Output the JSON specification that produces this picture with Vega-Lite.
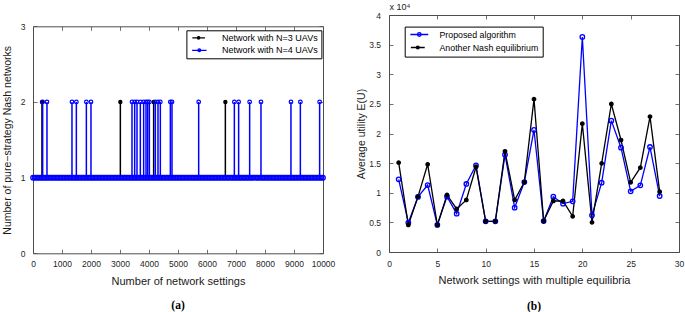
{
  "$schema": "https://vega.github.io/schema/vega-lite/v6.json",
  "background": "white",
  "padding": {"left": 2, "top": 2, "right": 0, "bottom": 0},
  "spacing": 21,
  "resolve": {"scale": {"stroke": "independent", "fill": "independent", "size": "independent"}, "legend": {"stroke": "independent", "fill": "independent"}},
  "config": {
    "view": {"stroke": "#4d4d4d", "strokeWidth": 1},
    "axis": {"domain": false, "grid": false, "tickSize": -4, "tickColor": "#4d4d4d", "tickWidth": 0.8, "labelFont": "Liberation Sans", "labelFontSize": 8.5, "labelColor": "#262626", "titleFont": "Liberation Sans", "titleFontSize": 11, "titleFontWeight": "normal", "titleColor": "#1a1a1a", "labelFlush": false, "labelOverlap": false},
    "title": {"font": "Liberation Serif", "fontSize": 11.5, "fontWeight": "bold", "color": "#000000", "orient": "bottom", "anchor": "middle"}
  },
  "datasets": {
    "a_stems": [
      {"x": 309, "n": 2, "series": "Network with N=3 UAVs"},
      {"x": 3012, "n": 2, "series": "Network with N=3 UAVs"},
      {"x": 4160, "n": 2, "series": "Network with N=3 UAVs"},
      {"x": 6633, "n": 2, "series": "Network with N=3 UAVs"},
      {"x": 333, "n": 2, "series": "Network with N=4 UAVs"},
      {"x": 482, "n": 2, "series": "Network with N=4 UAVs"},
      {"x": 1344, "n": 2, "series": "Network with N=4 UAVs"},
      {"x": 1495, "n": 2, "series": "Network with N=4 UAVs"},
      {"x": 1840, "n": 2, "series": "Network with N=4 UAVs"},
      {"x": 1999, "n": 2, "series": "Network with N=4 UAVs"},
      {"x": 3414, "n": 2, "series": "Network with N=4 UAVs"},
      {"x": 3506, "n": 2, "series": "Network with N=4 UAVs"},
      {"x": 3586, "n": 2, "series": "Network with N=4 UAVs"},
      {"x": 3701, "n": 2, "series": "Network with N=4 UAVs"},
      {"x": 3816, "n": 2, "series": "Network with N=4 UAVs"},
      {"x": 3897, "n": 2, "series": "Network with N=4 UAVs"},
      {"x": 3954, "n": 2, "series": "Network with N=4 UAVs"},
      {"x": 4012, "n": 2, "series": "Network with N=4 UAVs"},
      {"x": 4218, "n": 2, "series": "Network with N=4 UAVs"},
      {"x": 4310, "n": 2, "series": "Network with N=4 UAVs"},
      {"x": 4391, "n": 2, "series": "Network with N=4 UAVs"},
      {"x": 4736, "n": 2, "series": "Network with N=4 UAVs"},
      {"x": 4793, "n": 2, "series": "Network with N=4 UAVs"},
      {"x": 5713, "n": 2, "series": "Network with N=4 UAVs"},
      {"x": 6943, "n": 2, "series": "Network with N=4 UAVs"},
      {"x": 7091, "n": 2, "series": "Network with N=4 UAVs"},
      {"x": 7471, "n": 2, "series": "Network with N=4 UAVs"},
      {"x": 7861, "n": 2, "series": "Network with N=4 UAVs"},
      {"x": 8895, "n": 2, "series": "Network with N=4 UAVs"},
      {"x": 9219, "n": 2, "series": "Network with N=4 UAVs"},
      {"x": 9884, "n": 2, "series": "Network with N=4 UAVs"}
    ],
    "a_band": [
      {"x":0,"n":1},{"x":50,"n":1},{"x":100,"n":1},{"x":150,"n":1},{"x":200,"n":1},{"x":250,"n":1},{"x":300,"n":1},{"x":350,"n":1},{"x":400,"n":1},{"x":450,"n":1},
      {"x":500,"n":1},{"x":550,"n":1},{"x":600,"n":1},{"x":650,"n":1},{"x":700,"n":1},{"x":750,"n":1},{"x":800,"n":1},{"x":850,"n":1},{"x":900,"n":1},{"x":950,"n":1},
      {"x":1000,"n":1},{"x":1050,"n":1},{"x":1100,"n":1},{"x":1150,"n":1},{"x":1200,"n":1},{"x":1250,"n":1},{"x":1300,"n":1},{"x":1350,"n":1},{"x":1400,"n":1},{"x":1450,"n":1},
      {"x":1500,"n":1},{"x":1550,"n":1},{"x":1600,"n":1},{"x":1650,"n":1},{"x":1700,"n":1},{"x":1750,"n":1},{"x":1800,"n":1},{"x":1850,"n":1},{"x":1900,"n":1},{"x":1950,"n":1},
      {"x":2000,"n":1},{"x":2050,"n":1},{"x":2100,"n":1},{"x":2150,"n":1},{"x":2200,"n":1},{"x":2250,"n":1},{"x":2300,"n":1},{"x":2350,"n":1},{"x":2400,"n":1},{"x":2450,"n":1},
      {"x":2500,"n":1},{"x":2550,"n":1},{"x":2600,"n":1},{"x":2650,"n":1},{"x":2700,"n":1},{"x":2750,"n":1},{"x":2800,"n":1},{"x":2850,"n":1},{"x":2900,"n":1},{"x":2950,"n":1},
      {"x":3000,"n":1},{"x":3050,"n":1},{"x":3100,"n":1},{"x":3150,"n":1},{"x":3200,"n":1},{"x":3250,"n":1},{"x":3300,"n":1},{"x":3350,"n":1},{"x":3400,"n":1},{"x":3450,"n":1},
      {"x":3500,"n":1},{"x":3550,"n":1},{"x":3600,"n":1},{"x":3650,"n":1},{"x":3700,"n":1},{"x":3750,"n":1},{"x":3800,"n":1},{"x":3850,"n":1},{"x":3900,"n":1},{"x":3950,"n":1},
      {"x":4000,"n":1},{"x":4050,"n":1},{"x":4100,"n":1},{"x":4150,"n":1},{"x":4200,"n":1},{"x":4250,"n":1},{"x":4300,"n":1},{"x":4350,"n":1},{"x":4400,"n":1},{"x":4450,"n":1},
      {"x":4500,"n":1},{"x":4550,"n":1},{"x":4600,"n":1},{"x":4650,"n":1},{"x":4700,"n":1},{"x":4750,"n":1},{"x":4800,"n":1},{"x":4850,"n":1},{"x":4900,"n":1},{"x":4950,"n":1},
      {"x":5000,"n":1},{"x":5050,"n":1},{"x":5100,"n":1},{"x":5150,"n":1},{"x":5200,"n":1},{"x":5250,"n":1},{"x":5300,"n":1},{"x":5350,"n":1},{"x":5400,"n":1},{"x":5450,"n":1},
      {"x":5500,"n":1},{"x":5550,"n":1},{"x":5600,"n":1},{"x":5650,"n":1},{"x":5700,"n":1},{"x":5750,"n":1},{"x":5800,"n":1},{"x":5850,"n":1},{"x":5900,"n":1},{"x":5950,"n":1},
      {"x":6000,"n":1},{"x":6050,"n":1},{"x":6100,"n":1},{"x":6150,"n":1},{"x":6200,"n":1},{"x":6250,"n":1},{"x":6300,"n":1},{"x":6350,"n":1},{"x":6400,"n":1},{"x":6450,"n":1},
      {"x":6500,"n":1},{"x":6550,"n":1},{"x":6600,"n":1},{"x":6650,"n":1},{"x":6700,"n":1},{"x":6750,"n":1},{"x":6800,"n":1},{"x":6850,"n":1},{"x":6900,"n":1},{"x":6950,"n":1},
      {"x":7000,"n":1},{"x":7050,"n":1},{"x":7100,"n":1},{"x":7150,"n":1},{"x":7200,"n":1},{"x":7250,"n":1},{"x":7300,"n":1},{"x":7350,"n":1},{"x":7400,"n":1},{"x":7450,"n":1},
      {"x":7500,"n":1},{"x":7550,"n":1},{"x":7600,"n":1},{"x":7650,"n":1},{"x":7700,"n":1},{"x":7750,"n":1},{"x":7800,"n":1},{"x":7850,"n":1},{"x":7900,"n":1},{"x":7950,"n":1},
      {"x":8000,"n":1},{"x":8050,"n":1},{"x":8100,"n":1},{"x":8150,"n":1},{"x":8200,"n":1},{"x":8250,"n":1},{"x":8300,"n":1},{"x":8350,"n":1},{"x":8400,"n":1},{"x":8450,"n":1},
      {"x":8500,"n":1},{"x":8550,"n":1},{"x":8600,"n":1},{"x":8650,"n":1},{"x":8700,"n":1},{"x":8750,"n":1},{"x":8800,"n":1},{"x":8850,"n":1},{"x":8900,"n":1},{"x":8950,"n":1},
      {"x":9000,"n":1},{"x":9050,"n":1},{"x":9100,"n":1},{"x":9150,"n":1},{"x":9200,"n":1},{"x":9250,"n":1},{"x":9300,"n":1},{"x":9350,"n":1},{"x":9400,"n":1},{"x":9450,"n":1},
      {"x":9500,"n":1},{"x":9550,"n":1},{"x":9600,"n":1},{"x":9650,"n":1},{"x":9700,"n":1},{"x":9750,"n":1},{"x":9800,"n":1},{"x":9850,"n":1},{"x":9900,"n":1},{"x":9950,"n":1},
      {"x":10000,"n":1}
    ],
    "b": [
      {"x":1,"u":12260,"series":"Proposed algorithm"},
      {"x":2,"u":4950,"series":"Proposed algorithm"},
      {"x":3,"u":9300,"series":"Proposed algorithm"},
      {"x":4,"u":11300,"series":"Proposed algorithm"},
      {"x":5,"u":4560,"series":"Proposed algorithm"},
      {"x":6,"u":9340,"series":"Proposed algorithm"},
      {"x":7,"u":6470,"series":"Proposed algorithm"},
      {"x":8,"u":11480,"series":"Proposed algorithm"},
      {"x":9,"u":14630,"series":"Proposed algorithm"},
      {"x":10,"u":5180,"series":"Proposed algorithm"},
      {"x":11,"u":5180,"series":"Proposed algorithm"},
      {"x":12,"u":16430,"series":"Proposed algorithm"},
      {"x":13,"u":7480,"series":"Proposed algorithm"},
      {"x":14,"u":11800,"series":"Proposed algorithm"},
      {"x":15,"u":20600,"series":"Proposed algorithm"},
      {"x":16,"u":5230,"series":"Proposed algorithm"},
      {"x":17,"u":9340,"series":"Proposed algorithm"},
      {"x":18,"u":8160,"series":"Proposed algorithm"},
      {"x":19,"u":8550,"series":"Proposed algorithm"},
      {"x":20,"u":36300,"series":"Proposed algorithm"},
      {"x":21,"u":6190,"series":"Proposed algorithm"},
      {"x":22,"u":11700,"series":"Proposed algorithm"},
      {"x":23,"u":22170,"series":"Proposed algorithm"},
      {"x":24,"u":17610,"series":"Proposed algorithm"},
      {"x":25,"u":10240,"series":"Proposed algorithm"},
      {"x":26,"u":11250,"series":"Proposed algorithm"},
      {"x":27,"u":17720,"series":"Proposed algorithm"},
      {"x":28,"u":9450,"series":"Proposed algorithm"},
      {"x":1,"u":15080,"series":"Another Nash equilibrium"},
      {"x":2,"u":4560,"series":"Another Nash equilibrium"},
      {"x":3,"u":9340,"series":"Another Nash equilibrium"},
      {"x":4,"u":14800,"series":"Another Nash equilibrium"},
      {"x":5,"u":4560,"series":"Another Nash equilibrium"},
      {"x":6,"u":9620,"series":"Another Nash equilibrium"},
      {"x":7,"u":7260,"series":"Another Nash equilibrium"},
      {"x":8,"u":8780,"series":"Another Nash equilibrium"},
      {"x":9,"u":14350,"series":"Another Nash equilibrium"},
      {"x":10,"u":5180,"series":"Another Nash equilibrium"},
      {"x":11,"u":5180,"series":"Another Nash equilibrium"},
      {"x":12,"u":17000,"series":"Another Nash equilibrium"},
      {"x":13,"u":8780,"series":"Another Nash equilibrium"},
      {"x":14,"u":11800,"series":"Another Nash equilibrium"},
      {"x":15,"u":25800,"series":"Another Nash equilibrium"},
      {"x":16,"u":5230,"series":"Another Nash equilibrium"},
      {"x":17,"u":8610,"series":"Another Nash equilibrium"},
      {"x":18,"u":8610,"series":"Another Nash equilibrium"},
      {"x":19,"u":6020,"series":"Another Nash equilibrium"},
      {"x":20,"u":21660,"series":"Another Nash equilibrium"},
      {"x":21,"u":5000,"series":"Another Nash equilibrium"},
      {"x":22,"u":14960,"series":"Another Nash equilibrium"},
      {"x":23,"u":24980,"series":"Another Nash equilibrium"},
      {"x":24,"u":18900,"series":"Another Nash equilibrium"},
      {"x":25,"u":11760,"series":"Another Nash equilibrium"},
      {"x":26,"u":14230,"series":"Another Nash equilibrium"},
      {"x":27,"u":22840,"series":"Another Nash equilibrium"},
      {"x":28,"u":10180,"series":"Another Nash equilibrium"}
    ]
  },
  "hconcat": [
    {
      "width": 290,
      "height": 238.3,
      "view": {"stroke": null},
      "title": {"text": "(a)", "offset": 13},
      "layer": [
        {
          "data": {"name": "a_stems"},
          "mark": {"type": "rule", "strokeWidth": 1.5},
          "encoding": {
            "x": {"field": "x", "type": "quantitative", "scale": {"domain": [0, 10000], "nice": false, "zero": false},
                  "axis": {"orient": "bottom", "values": [0,1000,2000,3000,4000,5000,6000,7000,8000,9000,10000], "format": "d", "title": "Number of network settings", "labelPadding": 10, "titlePadding": 8, "domain": true, "domainColor": "#4d4d4d"}},
            "y": {"field": "n", "type": "quantitative", "scale": {"domain": [0, 3], "nice": false, "range": [238.3, 11.3]},
                  "axis": {"orient": "left", "values": [0,1,2,3], "title": "Number of pure−strategy Nash networks", "titleFontSize": 10.5, "labelPadding": 12, "titlePadding": 7.5, "domain": true, "domainColor": "#4d4d4d"}},
            "y2": {"datum": 1},
            "stroke": {"field": "series", "type": "nominal", "scale": {"domain": ["Network with N=3 UAVs", "Network with N=4 UAVs"], "range": ["#000000", "#0000ff"]},
                       "legend": {"title": null, "orient": "none", "legendX": 153.4, "legendY": 15.3, "symbolType": "M-1,0H7M3.75,0A0.75,0.75 0 1,1 2.25,0A0.75,0.75 0 1,1 3.75,0", "symbolSize": 41, "symbolStrokeWidth": 1.3, "labelFont": "Liberation Sans", "labelFontSize": 9, "labelColor": "#000000", "labelOffset": 23.7, "padding": 3, "rowPadding": 2.5, "strokeColor": "#000000", "fillColor": "#ffffff", "cornerRadius": 0}}
          }
        },
        {
          "data": {"name": "a_band"},
          "mark": {"type": "point", "shape": "circle", "filled": false, "color": "#0000ff", "size": 20, "strokeWidth": 1.2, "opacity": 1},
          "encoding": {
            "x": {"field": "x", "type": "quantitative", "axis": null},
            "y": {"field": "n", "type": "quantitative", "axis": null}
          }
        },
        {
          "data": {"name": "a_stems"},
          "mark": {"type": "point", "shape": "circle", "strokeWidth": 1.2, "opacity": 1},
          "encoding": {
            "x": {"field": "x", "type": "quantitative",
                  "axis": {"orient": "top", "offset": -11.3, "values": [0,1000,2000,3000,4000,5000,6000,7000,8000,9000,10000], "labels": false, "title": null, "domain": true, "domainColor": "#4d4d4d"}},
            "y": {"field": "n", "type": "quantitative",
                  "axis": {"orient": "right", "values": [0,1,2,3], "labels": false, "title": null, "domain": true, "domainColor": "#4d4d4d"}},
            "stroke": {"field": "series", "type": "nominal", "scale": {"domain": ["Network with N=3 UAVs", "Network with N=4 UAVs"], "range": ["#000000", "#0000ff"]},
                       "legend": {"title": null, "orient": "none", "legendX": 153.4, "legendY": 15.3, "symbolType": "M-1,0H7M3.75,0A0.75,0.75 0 1,1 2.25,0A0.75,0.75 0 1,1 3.75,0", "symbolSize": 41, "symbolStrokeWidth": 1.3, "labelFont": "Liberation Sans", "labelFontSize": 9, "labelColor": "#000000", "labelOffset": 23.7, "padding": 3, "rowPadding": 2.5, "strokeColor": "#000000", "fillColor": "#ffffff", "cornerRadius": 0}},
            "fill": {"field": "series", "type": "nominal", "scale": {"domain": ["Network with N=3 UAVs", "Network with N=4 UAVs"], "range": ["#000000", "transparent"]},
                     "legend": {"title": null, "orient": "none", "legendX": 153.4, "legendY": 15.3, "symbolType": "M-1,0H7M3.75,0A0.75,0.75 0 1,1 2.25,0A0.75,0.75 0 1,1 3.75,0", "symbolSize": 41, "symbolStrokeWidth": 1.3, "labelFont": "Liberation Sans", "labelFontSize": 9, "labelColor": "#000000", "labelOffset": 23.7, "padding": 3, "rowPadding": 2.5, "strokeColor": "#000000", "fillColor": "#ffffff", "cornerRadius": 0}},
            "size": {"field": "series", "type": "nominal", "scale": {"domain": ["Network with N=3 UAVs", "Network with N=4 UAVs"], "range": [10, 13]}, "legend": null}
          }
        }
      ],
      "resolve": {"axis": {"x": "independent", "y": "independent"}}
    },
    {
      "width": 290,
      "height": 237,
      "title": {"text": "(b)", "offset": 15},
      "data": {"name": "b"},
      "layer": [
        {
          "mark": {"type": "line", "strokeWidth": 1.3},
          "encoding": {
            "x": {"field": "x", "type": "quantitative", "scale": {"domain": [0, 30], "nice": false, "zero": false},
                  "axis": {"orient": "bottom", "values": [0,5,10,15,20,25,30], "title": "Network settings with multiple equilibria", "labelPadding": 11, "titlePadding": 7}},
            "y": {"field": "u", "type": "quantitative", "scale": {"domain": [0, 40000], "nice": false},
                  "axis": {"orient": "left", "values": [0,5000,10000,15000,20000,25000,30000,35000,40000], "labelExpr": "datum.value / 10000", "title": "Average utility E(U)", "titleFontSize": 10.5, "labelPadding": 12.5, "titlePadding": 2}},
            "stroke": {"field": "series", "type": "nominal", "scale": {"domain": ["Proposed algorithm", "Another Nash equilibrium"], "range": ["#0000ff", "#000000"]},
                       "legend": {"title": null, "orient": "none", "legendX": 15.7, "legendY": 11.6, "symbolType": "M-1,0H7M3.8,0A0.8,0.8 0 1,1 2.2,0A0.8,0.8 0 1,1 3.8,0", "symbolSize": 46.6, "symbolStrokeWidth": 1.3, "labelFont": "Liberation Sans", "labelFontSize": 8.8, "labelColor": "#000000", "labelOffset": 22.5, "padding": 3.5, "rowPadding": 3, "strokeColor": "#000000", "fillColor": "#ffffff", "cornerRadius": 0}}
          }
        },
        {
          "mark": {"type": "point", "shape": "circle", "strokeWidth": 1.3, "opacity": 1},
          "encoding": {
            "x": {"field": "x", "type": "quantitative",
                  "axis": {"orient": "top", "values": [0,5,10,15,20,25,30], "labels": false, "title": "x 10⁴", "titleAnchor": "start", "titleFontSize": 9, "titlePadding": 3}},
            "y": {"field": "u", "type": "quantitative",
                  "axis": {"orient": "right", "values": [0,5000,10000,15000,20000,25000,30000,35000,40000], "labels": false, "title": null}},
            "stroke": {"field": "series", "type": "nominal", "scale": {"domain": ["Proposed algorithm", "Another Nash equilibrium"], "range": ["#0000ff", "#000000"]},
                       "legend": {"title": null, "orient": "none", "legendX": 15.7, "legendY": 11.6, "symbolType": "M-1,0H7M3.8,0A0.8,0.8 0 1,1 2.2,0A0.8,0.8 0 1,1 3.8,0", "symbolSize": 46.6, "symbolStrokeWidth": 1.3, "labelFont": "Liberation Sans", "labelFontSize": 8.8, "labelColor": "#000000", "labelOffset": 22.5, "padding": 3.5, "rowPadding": 3, "strokeColor": "#000000", "fillColor": "#ffffff", "cornerRadius": 0}},
            "fill": {"field": "series", "type": "nominal", "scale": {"domain": ["Proposed algorithm", "Another Nash equilibrium"], "range": ["transparent", "#000000"]},
                     "legend": {"title": null, "orient": "none", "legendX": 15.7, "legendY": 11.6, "symbolType": "M-1,0H7M3.8,0A0.8,0.8 0 1,1 2.2,0A0.8,0.8 0 1,1 3.8,0", "symbolSize": 46.6, "symbolStrokeWidth": 1.3, "labelFont": "Liberation Sans", "labelFontSize": 8.8, "labelColor": "#000000", "labelOffset": 22.5, "padding": 3.5, "rowPadding": 3, "strokeColor": "#000000", "fillColor": "#ffffff", "cornerRadius": 0}},
            "size": {"field": "series", "type": "nominal", "scale": {"domain": ["Proposed algorithm", "Another Nash equilibrium"], "range": [20, 12]}, "legend": null}
          }
        }
      ],
      "resolve": {"axis": {"x": "independent", "y": "independent"}}
    }
  ]
}
